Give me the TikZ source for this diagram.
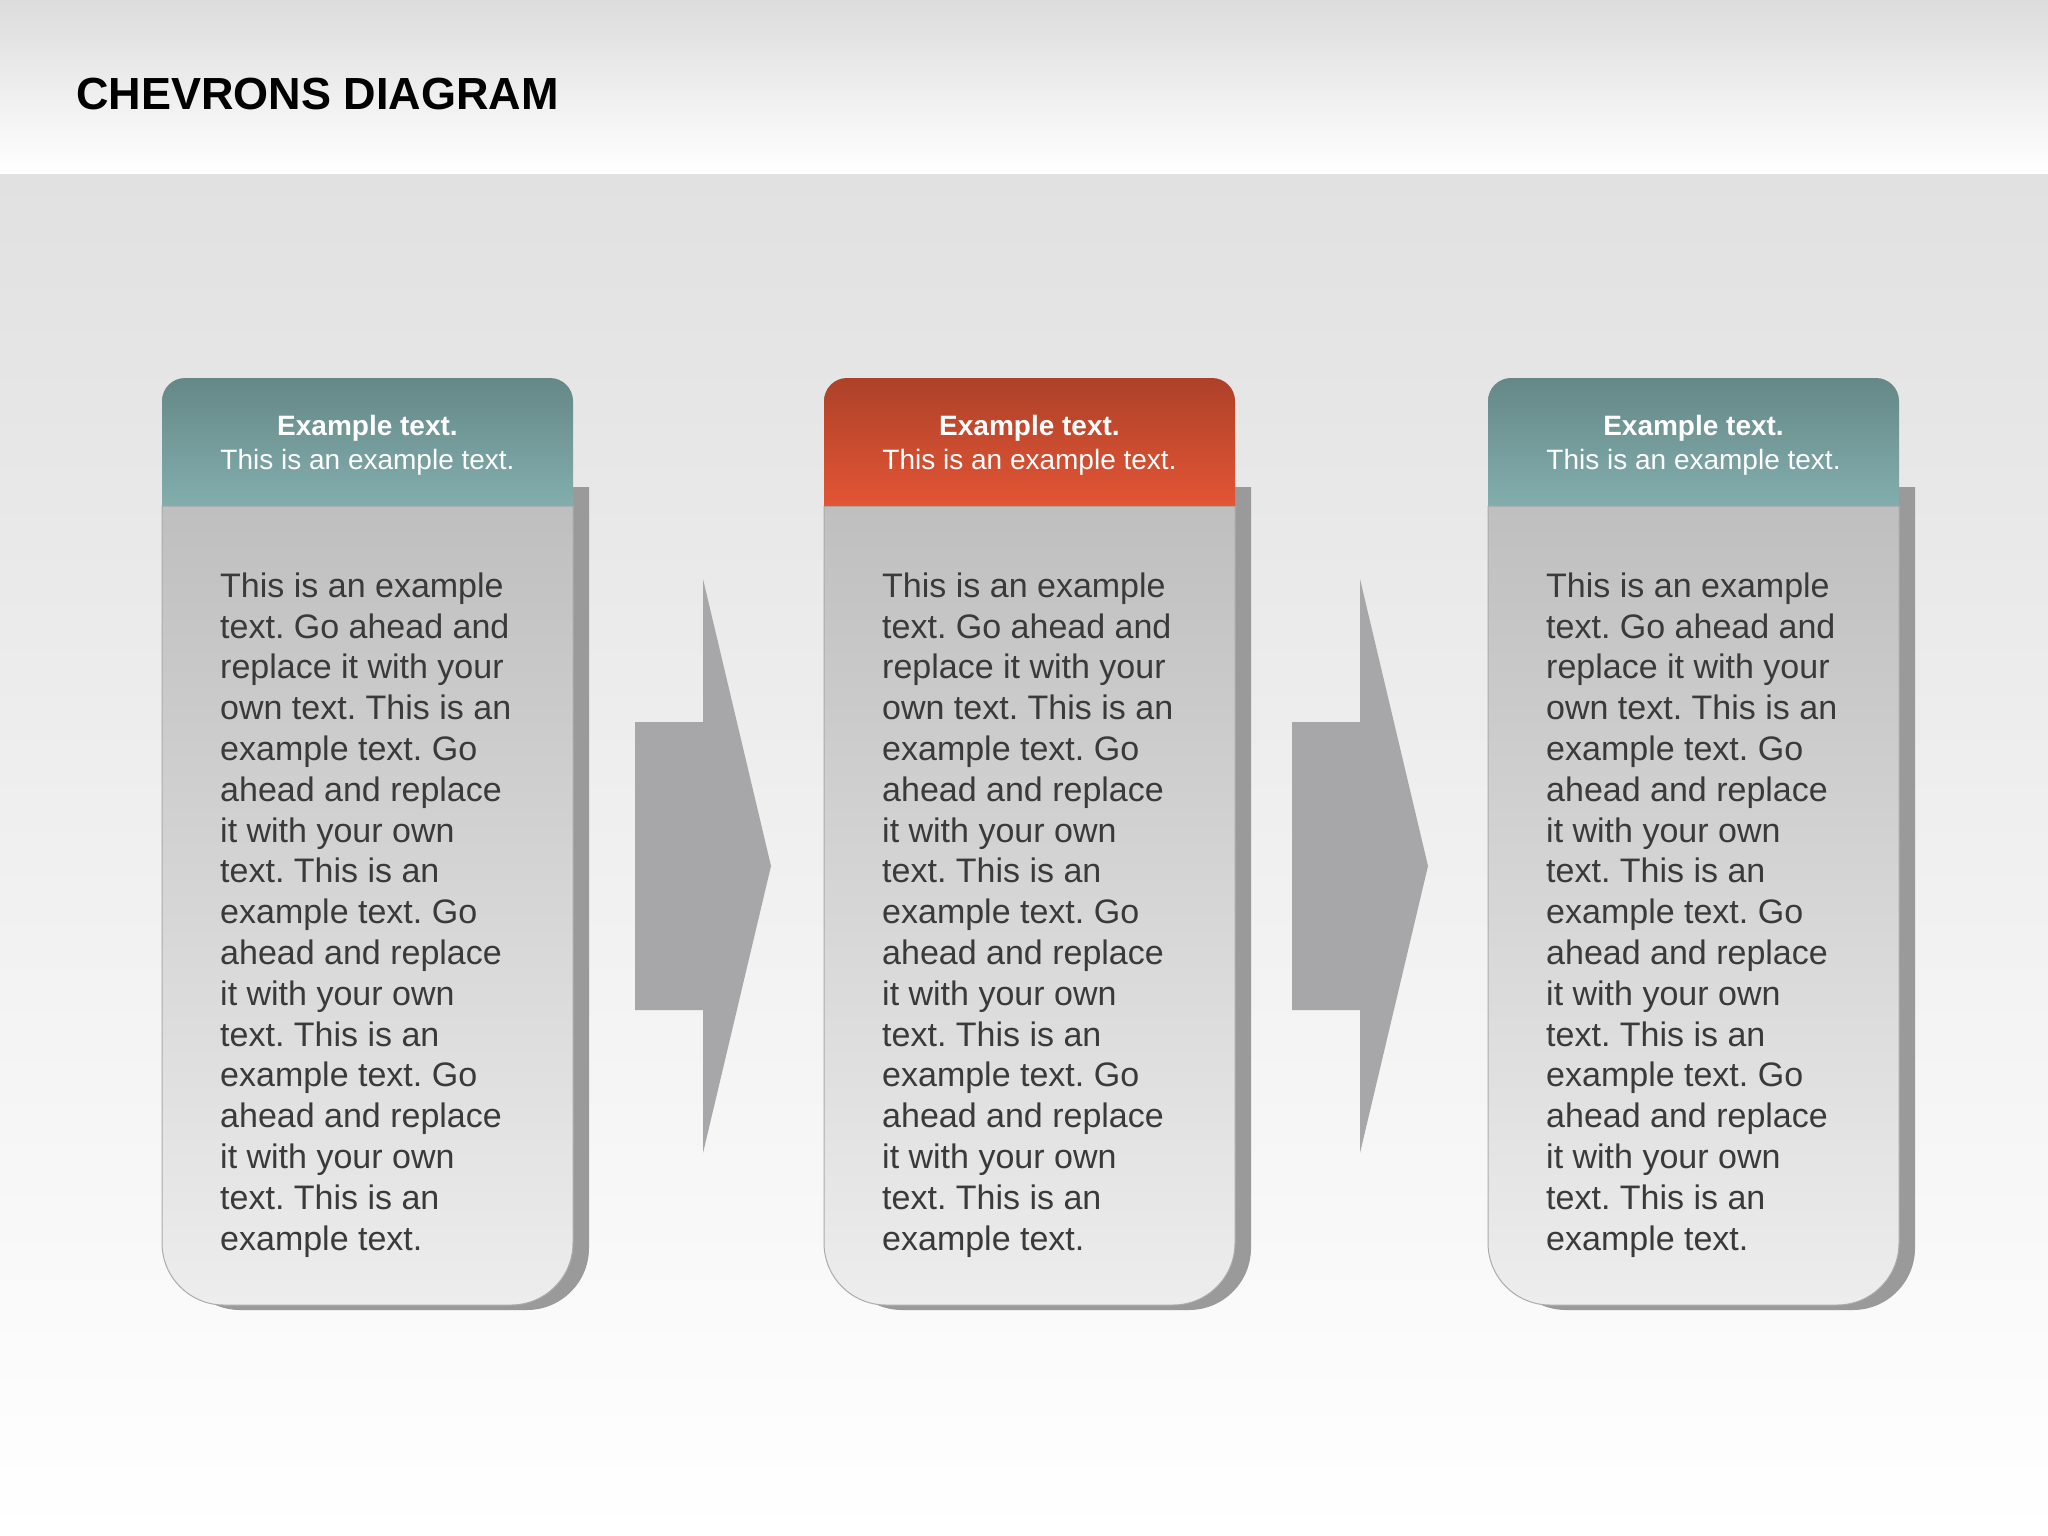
\documentclass[tikz,border=0pt]{standalone}
\usepackage{fontspec}
\setmainfont{Liberation Sans}
\frenchspacing
\definecolor{bandtop}{HTML}{DCDCDC}
\definecolor{maintop}{HTML}{E1E1E1}
\definecolor{mainmid}{HTML}{F0F0F0}
\definecolor{shadowgray}{HTML}{9A9A9A}
\definecolor{bodytop}{HTML}{BFBFBF}
\definecolor{bodybot}{HTML}{EDEDED}
\definecolor{bodyline}{HTML}{ABABAB}
\definecolor{tealtop}{HTML}{658787}
\definecolor{tealbot}{HTML}{83AEAE}
\definecolor{redtop}{HTML}{AD4128}
\definecolor{redbot}{HTML}{E35535}
\definecolor{arrowgray}{HTML}{A7A6A8}
\definecolor{bodytext}{HTML}{3A3A3A}
\tikzset{
  cardshadow/.style={fill=shadowgray},
  cardbody/.style={top color=bodytop, bottom color=bodybot, draw=bodyline, line width=1pt},
  headtxt/.style={anchor=north, inner sep=0pt, align=center, text=white, font=\fontsize{28}{34}\selectfont},
  bodytxt/.style={anchor=north west, inner sep=0pt, align=left, text=bodytext, font=\fontsize{34}{40.8}\selectfont},
  arrowshape/.style={fill=arrowgray},
}
\newcommand\chevcard[4]{%
  \fill[cardshadow] ({#1+16},487) -- ({#1+427},487) -- ({#1+427},1248)
     arc[start angle=0,end angle=-90,radius=62pt] -- ({#1+78},1310)
     arc[start angle=270,end angle=180,radius=62pt] -- cycle;
  \shade[cardbody] (#1,506) -- ({#1+411},506) -- ({#1+411},1243)
     arc[start angle=0,end angle=-90,radius=62pt] -- ({#1+62},1305)
     arc[start angle=270,end angle=180,radius=62pt] -- cycle;
  \shade[top color=#2, bottom color=#3] (#1,506) -- (#1,401)
     arc[start angle=180,end angle=90,radius=23pt] -- ({#1+388},378)
     arc[start angle=90,end angle=0,radius=23pt] -- ({#1+411},506) -- cycle;
  \node[headtxt] (head#4) at ({#1+205.5},415.5) {\textbf{Example text.}\\This is an example text.};
  \node[bodytxt] (body#4) at ({#1+58},572.5) {This is an example\\text. Go ahead and\\replace it with your\\own text. This is an\\example text. Go\\ahead and replace\\it with your own\\text. This is an\\example text. Go\\ahead and replace\\it with your own\\text. This is an\\example text. Go\\ahead and replace\\it with your own\\text. This is an\\example text.};
}
\begin{document}
\begin{tikzpicture}[x=1pt,y=-1pt]
\useasboundingbox (0,0) rectangle (2048,1536);
\shade[top color=bandtop, bottom color=white] (0,0) rectangle (2048,174);
\shade[top color=maintop, middle color=mainmid, bottom color=white] (0,174) rectangle (2048,1536);
\node[anchor=base west, inner sep=0pt, font=\fontsize{45}{54}\selectfont\bfseries, text=black] (title) at (76,110) {CHEVRONS DIAGRAM};
\chevcard{162}{tealtop}{tealbot}{1}
\chevcard{824}{redtop}{redbot}{2}
\chevcard{1488}{tealtop}{tealbot}{3}
\fill[arrowshape] (635,722) -- (703,722) -- (703,579) -- (771,866) -- (703,1153) -- (703,1010) -- (635,1010) -- cycle;
\fill[arrowshape] (1292,722) -- (1360,722) -- (1360,579) -- (1428,866) -- (1360,1153) -- (1360,1010) -- (1292,1010) -- cycle;
\end{tikzpicture}
\end{document}
